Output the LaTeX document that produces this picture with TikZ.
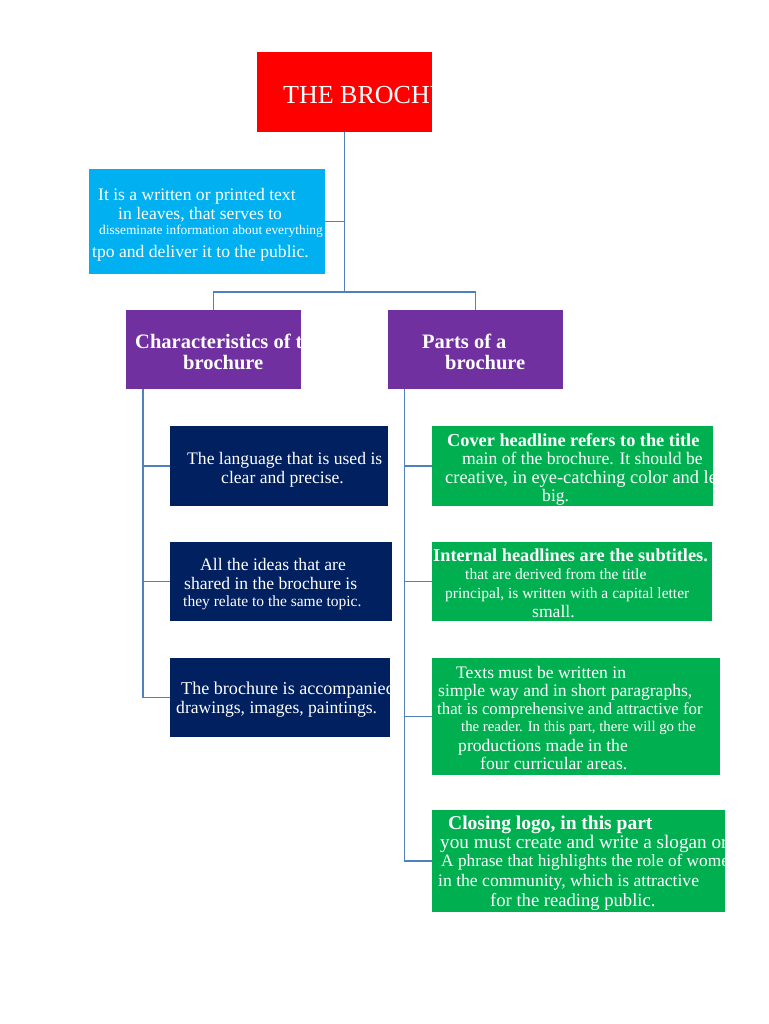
\documentclass[tikz,border=0pt]{standalone}
\usepackage{fontspec}
\setmainfont{Liberation Serif}
\definecolor{cred}{HTML}{FF0000}
\definecolor{cblue}{HTML}{00B0F0}
\definecolor{cpurple}{HTML}{7030A0}
\definecolor{cnavy}{HTML}{002060}
\definecolor{cgreen}{HTML}{00B050}
\definecolor{cline}{HTML}{4F81BD}
\tikzset{
  boxst/.style={anchor=north west, inner sep=0pt, outer sep=0pt, draw=none},
  conn/.style={draw=cline, line width=1.6pt},
  txt/.style={anchor=base west, inner sep=0pt, text=white, font=\fontsize{17.6}{20}\selectfont},
  sml/.style={font=\fontsize{15.5}{18}\selectfont},
  tiny/.style={font=\fontsize{13.4}{16}\selectfont},
  bld/.style={font=\fontsize{18.3}{20}\selectfont\bfseries},
}
\begin{document}
\begin{tikzpicture}[x=1pt,y=-1pt]
\useasboundingbox (0,0) rectangle (768,1024);
% boxes
\node[boxst, fill=cred, minimum width=175pt, minimum height=80pt] (title) at (257,52) {};
\node[boxst, fill=cblue, minimum width=236pt, minimum height=105pt] (def) at (89,169) {};
\node[boxst, fill=cpurple, minimum width=175pt, minimum height=79pt] (c1) at (126,310) {};
\node[boxst, fill=cpurple, minimum width=175pt, minimum height=79pt] (c2) at (388,310) {};
\node[boxst, fill=cnavy, minimum width=218pt, minimum height=80pt] (n1) at (170,426) {};
\node[boxst, fill=cnavy, minimum width=222pt, minimum height=79pt] (n2) at (170,542) {};
\node[boxst, fill=cnavy, minimum width=220pt, minimum height=79pt] (n3) at (170,658) {};
\node[boxst, fill=cgreen, minimum width=281pt, minimum height=80pt] (g1) at (432,426) {};
\node[boxst, fill=cgreen, minimum width=280pt, minimum height=79pt] (g2) at (432,542) {};
\node[boxst, fill=cgreen, minimum width=288pt, minimum height=117pt] (g3) at (432,658) {};
\node[boxst, fill=cgreen, minimum width=293pt, minimum height=102pt] (g4) at (432,810) {};
% connectors
\coordinate (bar) at (344.5,292);
\coordinate (lt) at (143,0);
\coordinate (rt) at (404.5,0);
\draw[conn] (title.south) -- (bar);
\draw[conn] (def.east) -- (def.east -| title.south);
\draw[conn] (c1.north) |- (bar) -| (c2.north);
\draw[conn] (c1.south -| lt) |- (n3.west);
\draw[conn] (n1.west) -- (n1.west -| lt);
\draw[conn] (n2.west) -- (n2.west -| lt);
\draw[conn] (c2.south -| rt) |- (g4.west);
\draw[conn] (g1.west) -- (g1.west -| rt);
\draw[conn] (g2.west) -- (g2.west -| rt);
\draw[conn] (g3.west) -- (g3.west -| rt);
% texts
\begin{scope}
\clip (title.south west) rectangle (title.north east);
\node[txt, font=\fontsize{26}{30}\selectfont] (tt) at (283,104) {THE BROCHURE};
\end{scope}
\begin{scope}
\clip (def.south west) rectangle (def.north east);
\node[txt] (d1) at (98,201) {It is a written or printed text};
\node[txt] (d2) at (118,219) {in leaves, that serves to};
\node[txt, tiny] (d3) at (99,234) {disseminate information about everything};
\node[txt] (d4) at (92,257) {tpo and deliver it to the public.};
\end{scope}
\begin{scope}
\clip (c1.south west) rectangle (c1.north east);
\node[txt, font=\fontsize{20.5}{24}\selectfont\bfseries] (c1a) at (135,348) {Characteristics of the};
\node[txt, font=\fontsize{20.5}{24}\selectfont\bfseries] (c1b) at (183,369) {brochure};
\end{scope}
\begin{scope}
\clip (c2.south west) rectangle (c2.north east);
\node[txt, font=\fontsize{20.5}{24}\selectfont\bfseries] (c2a) at (422,348) {Parts of a};
\node[txt, font=\fontsize{20.5}{24}\selectfont\bfseries] (c2b) at (445,369) {brochure};
\end{scope}
\begin{scope}
\clip (n1.south west) rectangle (n1.north east);
\node[txt] (n1a) at (187,464) {The language that is used is};
\node[txt] (n1b) at (221,483) {clear and precise.};
\end{scope}
\begin{scope}
\clip (n2.south west) rectangle (n2.north east);
\node[txt] (n2a) at (200,570) {All the ideas that are};
\node[txt] (n2b) at (184,589) {shared in the brochure is};
\node[txt, sml] (n2c) at (183,606) {they relate to the same topic.};
\end{scope}
\begin{scope}
\clip (n3.south west) rectangle (n3.north east);
\node[txt, font=\fontsize{18.1}{20}\selectfont] (n3a) at (181,694) {The brochure is accompanied by};
\node[txt] (n3b) at (176,713) {drawings, images, paintings.};
\end{scope}
\begin{scope}
\clip (g1.south west) rectangle (g1.north east);
\node[txt, bld] (g1a) at (447,446) {Cover headline refers to the title};
\node[txt] (g1b) at (462,464) {main of the brochure. It should be};
\node[txt, font=\fontsize{18.4}{20}\selectfont] (g1c) at (445,483) {creative, in eye-catching color and letter};
\node[txt] (g1d) at (542,501) {big.};
\end{scope}
\begin{scope}
\clip (g2.south west) rectangle (g2.north east);
\node[txt, bld] (g2a) at (433,561) {Internal headlines are the subtitles.};
\node[txt, sml] (g2b) at (465,579) {that are derived from the title};
\node[txt, sml] (g2c) at (445,598) {principal, is written with a capital letter};
\node[txt] (g2d) at (532,617) {small.};
\end{scope}
\begin{scope}
\clip (g3.south west) rectangle (g3.north east);
\node[txt] (g3a) at (456,678) {Texts must be written in};
\node[txt] (g3b) at (438,696) {simple way and in short paragraphs,};
\node[txt, font=\fontsize{16.8}{20}\selectfont] (g3c) at (437,714) {that is comprehensive and attractive for};
\node[txt, font=\fontsize{14.8}{18}\selectfont] (g3d) at (461,731) {the reader. In this part, there will go the};
\node[txt] (g3e) at (458,751) {productions made in the};
\node[txt] (g3f) at (480,769) {four curricular areas.};
\end{scope}
\begin{scope}
\clip (g4.south west) rectangle (g4.north east);
\node[txt, font=\fontsize{19.5}{22}\selectfont\bfseries] (g4a) at (448,829) {Closing logo, in this part};
\node[txt, font=\fontsize{19.2}{22}\selectfont] (g4b) at (440,848) {you must create and write a slogan or};
\node[txt, font=\fontsize{17.3}{20}\selectfont] (g4c) at (441,866) {A phrase that highlights the role of women};
\node[txt] (g4d) at (438,886) {in the community, which is attractive};
\node[txt, font=\fontsize{18.6}{22}\selectfont] (g4e) at (490,906) {for the reading public.};
\end{scope}
\end{tikzpicture}
\end{document}
